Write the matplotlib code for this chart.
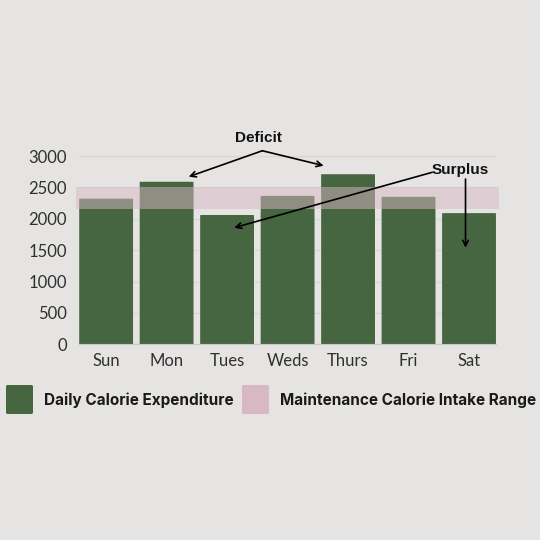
import matplotlib
matplotlib.use("Agg")
import matplotlib.pyplot as plt
from matplotlib.patches import FancyBboxPatch

days = ["Sun", "Mon", "Tues", "Weds", "Thurs", "Fri", "Sat"]
expenditure = [2320, 2590, 2060, 2365, 2710, 2350, 2090]
maintenance_low = 2150
maintenance_high = 2500
yticks = [0, 500, 1000, 1500, 2000, 2500, 3000]

BG = "#e5e4e2"
GREEN = "#456640"
PINK = "#d8b8c4"

fig = plt.figure(figsize=(5.4, 5.4), dpi=100, facecolor=BG)
ax = fig.add_axes([0.1467, 0.3624, 0.7717, 0.3487], facecolor=BG)

x = list(range(len(days)))
bw = 0.89
for xi, v in zip(x, expenditure):
    ax.add_patch(FancyBboxPatch((xi - bw / 2, 0), bw, v,
                                boxstyle="round,pad=0,rounding_size=0.05",
                                mutation_aspect=60, facecolor=GREEN,
                                edgecolor="none", zorder=2))
ax.bar(x, expenditure, width=bw, color=GREEN, alpha=0)

ax.fill_between([-0.5, 6.49], maintenance_low, maintenance_high, color=PINK,
                alpha=0.5, linewidth=0, zorder=3, clip_on=False)

ax.set_xlim(-0.445, 6.445)
ax.set_ylim(0, 3000)
ax.set_yticks(yticks)
ax.set_xticks(x)
ax.set_xticklabels(days)
ax.grid(axis="y", color="#d9d8d6", linewidth=1, zorder=0)
ax.set_axisbelow(True)
for s in ["top", "right", "left"]:
    ax.spines[s].set_visible(False)
ax.spines["bottom"].set_color("#c8c8c6")
ax.tick_params(length=0, labelsize=12, labelcolor="#303030")
ax.tick_params(axis="y", pad=9)
ax.tick_params(axis="x", pad=6)
for lab in ax.get_xticklabels() + ax.get_yticklabels():
    lab.set_fontfamily("Lato")

akw = dict(arrowstyle="->", color="black", lw=1.2, shrinkA=0, shrinkB=0)
ax.text(2.515, 3282, "Deficit", ha="center", va="center", fontsize=11,
        fontweight="bold", family="Liberation Sans", color="#111111")
ax.annotate("", xy=(1.365, 2670), xytext=(2.583, 3084), arrowprops=akw,
            annotation_clip=False)
ax.annotate("", xy=(3.596, 2846), xytext=(2.583, 3084), arrowprops=akw,
            annotation_clip=False)
ax.text(5.849, 2777, "Surplus", ha="center", va="center", fontsize=11,
        fontweight="bold", family="Liberation Sans", color="#111111")
ax.annotate("", xy=(2.117, 1858), xytext=(5.39, 2740), arrowprops=akw,
            annotation_clip=False)
ax.annotate("", xy=(5.942, 1539), xytext=(5.942, 2633), arrowprops=akw,
            annotation_clip=False)

# legend
fig.patches.append(FancyBboxPatch((6 / 540, 1 - 414 / 540), 27 / 540, 29 / 540,
                                  boxstyle="round,pad=0,rounding_size=0.003",
                                  transform=fig.transFigure, facecolor=GREEN,
                                  edgecolor="none"))
fig.patches.append(FancyBboxPatch((242 / 540, 1 - 414 / 540), 27 / 540, 29 / 540,
                                  boxstyle="round,pad=0,rounding_size=0.003",
                                  transform=fig.transFigure, facecolor=PINK,
                                  edgecolor="none"))
fig.text(44.5 / 540, 1 - 400 / 540, "Daily Calorie Expenditure", ha="left",
         va="center", fontsize=11, fontweight="bold", family="Inter",
         color="#1a1a1a")
fig.text(280.5 / 540, 1 - 400 / 540, "Maintenance Calorie Intake Range",
         ha="left", va="center", fontsize=11, fontweight="bold",
         family="Inter", color="#1a1a1a")

fig.savefig("out.png", dpi=100, facecolor=BG)
